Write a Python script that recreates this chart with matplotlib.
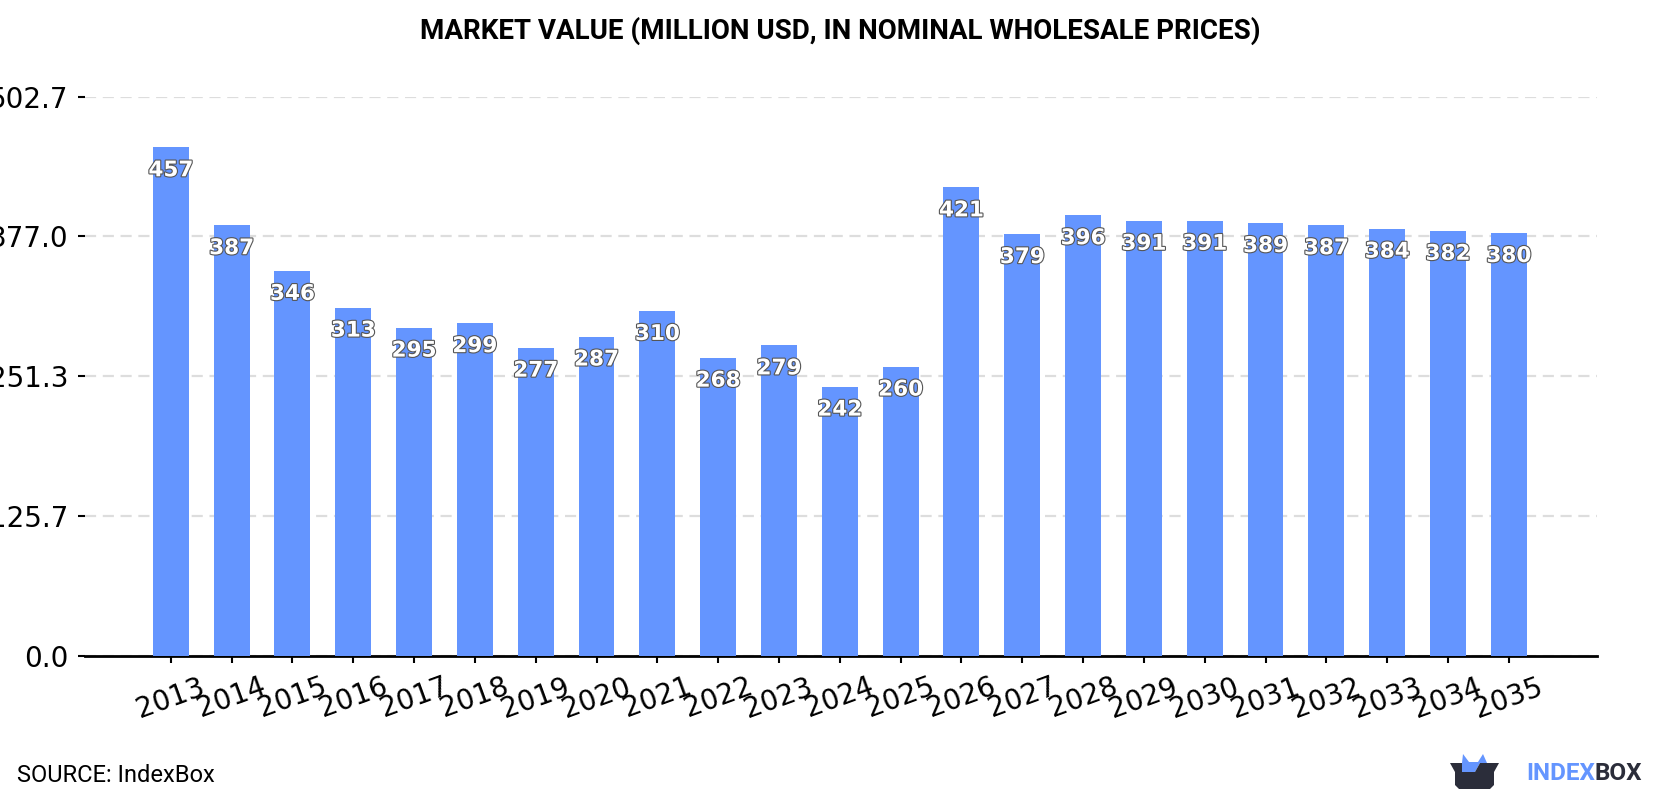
import matplotlib
matplotlib.use("Agg")
import matplotlib.pyplot as plt
import matplotlib.patheffects as pe
from matplotlib.patches import Polygon

# Market value by year
years = list(range(2013, 2036))
values = [457, 387, 346, 313, 295, 299, 277, 287, 310, 268, 279, 242, 260,
          421, 379, 396, 391, 391, 389, 387, 384, 382, 380]
y_ticks = [0.0, 125.7, 251.3, 377.0, 502.7]

bar_color = "#6495FF"
dark_color = "#2B2D3A"
W, H = 1680, 800

fig = plt.figure(figsize=(W / 100, H / 100), dpi=100, facecolor="white")
ax = fig.add_axes([85 / W, 1 - 656 / H, (1597 - 85) / W, (656 - 96.5) / H])

ax.bar(range(len(years)), values, width=0.59, color=bar_color, zorder=3)
ax.set_xlim(-1.41, 23.45)
ax.set_ylim(0, 502.7)

# value labels sit just under the top of each bar
for i, v in enumerate(values):
    ax.annotate(str(v), (i, v), xytext=(0, -16.5), textcoords="offset points",
                ha="center", va="center", color="white", fontsize=15.5,
                fontweight="bold", family="DejaVu Sans", zorder=4,
                path_effects=[pe.withStroke(linewidth=1.6, foreground="#555555")])

ax.set_yticks(y_ticks)
ax.set_yticklabels([f"{t:.1f}" for t in y_ticks], fontsize=20)
ax.set_xticks(range(len(years)))
ax.set_xticklabels(years, fontsize=20, rotation=20)
ax.tick_params(axis="y", length=5, width=1.5, pad=7)
ax.tick_params(axis="x", length=5, width=1.5, pad=7)
ax.yaxis.grid(True, color="#DDDDDD", linewidth=1.6, dashes=(5, 3), zorder=0)
ax.set_axisbelow(True)

for side in ["top", "right", "left"]:
    ax.spines[side].set_visible(False)
ax.spines["bottom"].set_linewidth(2)

# overlay in pixel units for the heading, source note and logo
over = fig.add_axes([0, 0, 1, 1], facecolor="none")
over.set_xlim(0, W)
over.set_ylim(H, 0)
over.axis("off")

over.text(840, 31, "MARKET VALUE (MILLION USD, IN NOMINAL WHOLESALE PRICES)",
          ha="center", va="center", fontsize=20, fontweight="bold", family="Roboto")
over.text(17, 775, "SOURCE: IndexBox", ha="left", va="center", fontsize=17,
          family="Roboto")

# logo: an open box with a blue shape poking out
box = [(1450, 763), (1462, 763), (1462, 772), (1475, 772), (1480, 763), (1499, 763),
       (1494, 772), (1494, 785), (1490, 789), (1459, 789), (1455, 785), (1455, 772)]
crown = [(1462, 763), (1463, 754), (1469, 762), (1478, 762), (1483, 754), (1487, 763),
         (1480, 763), (1475, 772), (1462, 772)]
over.add_patch(Polygon(crown, closed=True, color=bar_color, lw=0))
over.add_patch(Polygon(box, closed=True, color=dark_color, lw=0))
over.text(1595, 774, "INDEX", ha="right", va="center", fontsize=17.5,
          fontweight="bold", family="Roboto", color=bar_color)
over.text(1595, 774, "BOX", ha="left", va="center", fontsize=17.5,
          fontweight="bold", family="Roboto", color=dark_color)

fig.savefig("out.png", dpi=100)
